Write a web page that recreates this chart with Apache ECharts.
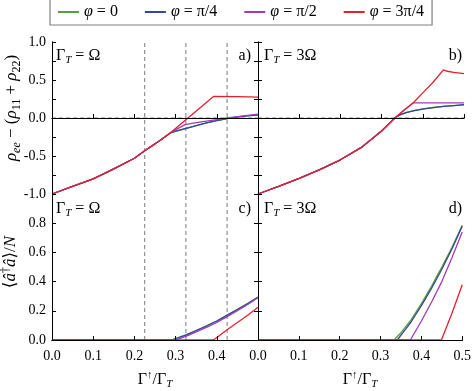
<!DOCTYPE html>
<html><head><meta charset="utf-8">
<script src="https://cdn.jsdelivr.net/npm/echarts@6/dist/echarts.min.js"></script>
<style>html,body{margin:0;padding:0;background:#fff}#c{width:474px;height:391px}</style>
</head><body><div id="c"></div>
<script>
// ---------- data ----------
const seriesNames = ['φ = 0', 'φ = π/4', 'φ = π/2', 'φ = 3π/4'];
const colors = ['#55a03c', '#35479c', '#a03cb8', '#e3202c'];
const xTickLabels = ['0.0', '0.1', '0.2', '0.3', '0.4', '0.5'];
const guideX = [0.225, 0.325, 0.425];

// panel a (Γ_T = Ω): shared branch
const aCommonX = [0, 0.05, 0.1, 0.15, 0.2, 0.225, 0.25, 0.262, 0.286];
const aCommonY = [-1, -0.90, -0.80, -0.67, -0.53, -0.43, -0.34, -0.295, -0.20];
const aTailX = [0.3, 0.325, 0.35, 0.375, 0.4, 0.425, 0.45, 0.475, 0.5];
const aGreenY = [-0.175, -0.14, -0.10, -0.065, -0.035, -0.008, 0.015, 0.03, 0.045];
const aBlueY = [-0.172, -0.138, -0.099, -0.064, -0.034, -0.009, 0.012, 0.027, 0.038];
const aPurpleX = [0.305, 0.323, 0.35, 0.375, 0.4, 0.425, 0.45, 0.475, 0.5];
const aPurpleY = [-0.14, -0.087, -0.06, -0.04, -0.02, 0.0, 0.017, 0.035, 0.052];
const aRedX = [0.392, 0.45, 0.5];
const aRedY = [0.284, 0.28, 0.275];

// panel b (Γ_T = 3Ω)
const bCommonX = [0, 0.05, 0.1, 0.15, 0.2, 0.25, 0.3, 0.332];
const bCommonY = [-1, -0.90, -0.795, -0.68, -0.55, -0.39, -0.17, 0];
const bTailX = [0.345, 0.36, 0.38, 0.4, 0.425, 0.45, 0.475, 0.5];
const bGreenY = [0.045, 0.075, 0.10, 0.12, 0.138, 0.152, 0.163, 0.172];
const bBlueY = [0.04, 0.07, 0.097, 0.118, 0.137, 0.152, 0.164, 0.175];
const bPurpleX = [0.355, 0.377, 0.4, 0.45, 0.5];
const bPurpleY = [0.105, 0.2, 0.2, 0.2, 0.2];
const bRedX = [0.355, 0.377, 0.4, 0.425, 0.45, 0.46, 0.475, 0.5];
const bRedY = [0.105, 0.2, 0.33, 0.47, 0.633, 0.615, 0.6, 0.585];

// panel c (Γ_T = Ω)
const cGreenX = [0, 0.29, 0.325, 0.35, 0.375, 0.4, 0.425, 0.45, 0.475, 0.5];
const cGreenY = [0, 0, 0.035, 0.065, 0.097, 0.13, 0.17, 0.21, 0.25, 0.295];
const cBlueY = [0, 0, 0.034, 0.064, 0.096, 0.13, 0.169, 0.209, 0.25, 0.293];
const cPurpleX = [0, 0.30, 0.325, 0.35, 0.375, 0.4, 0.425, 0.45, 0.475, 0.5];
const cPurpleY = [0, 0, 0.025, 0.055, 0.087, 0.12, 0.16, 0.2, 0.243, 0.29];
const cRedX = [0, 0.392, 0.425, 0.45, 0.475, 0.5];
const cRedY = [0, 0, 0.07, 0.12, 0.17, 0.225];

// panel d (Γ_T = 3Ω)
const dGreenX = [0, 0.333, 0.35, 0.375, 0.4, 0.425, 0.45, 0.475, 0.5];
const dGreenY = [0, 0, 0.05, 0.14, 0.25, 0.37, 0.5, 0.635, 0.785];
const dBlueX = [0, 0.341, 0.36, 0.375, 0.4, 0.425, 0.45, 0.475, 0.5];
const dBlueY = [0, 0, 0.07, 0.125, 0.235, 0.355, 0.485, 0.625, 0.78];
const dPurpleX = [0, 0.373, 0.4, 0.425, 0.45, 0.475, 0.5];
const dPurpleY = [0, 0, 0.13, 0.26, 0.4, 0.565, 0.74];
const dRedX = [0, 0.449, 0.475, 0.5];
const dRedY = [0, 0, 0.185, 0.378];

// ---------- build ----------
const zip = (xs, ys) => xs.map((x, i) => [x, ys[i]]);
const FONT = '"Liberation Serif", "Times New Roman", "DejaVu Serif", serif';
const rich = {
  m: { fontFamily: FONT, fontSize: 16, color: '#000', lineHeight: 20 },
  i: { fontFamily: FONT, fontSize: 16, fontStyle: 'italic', color: '#000', lineHeight: 20 },
  s: { fontFamily: FONT, fontSize: 11, color: '#000', verticalAlign: 'bottom', lineHeight: 12 },
  si: { fontFamily: FONT, fontSize: 11, fontStyle: 'italic', color: '#000', verticalAlign: 'bottom', lineHeight: 12 },
  sup: { fontFamily: FONT, fontSize: 11, color: '#000', verticalAlign: 'top', lineHeight: 12 },
  M: { fontFamily: FONT, fontSize: 17, color: '#000', lineHeight: 22 },
  I: { fontFamily: FONT, fontSize: 17, fontStyle: 'italic', color: '#000', lineHeight: 22 },
  S: { fontFamily: FONT, fontSize: 12, color: '#000', verticalAlign: 'bottom', lineHeight: 13 },
  SI: { fontFamily: FONT, fontSize: 12, fontStyle: 'italic', color: '#000', verticalAlign: 'bottom', lineHeight: 13 },
  SUP: { fontFamily: FONT, fontSize: 12, color: '#000', verticalAlign: 'top', lineHeight: 13 }
};

const grids = [
  { left: 52, top: 42, width: 206, height: 152 },
  { left: 258, top: 42, width: 206, height: 152 },
  { left: 52, top: 194, width: 206, height: 154 },
  { left: 258, top: 194, width: 206, height: 154 }
];
const yMin = [-1, -1, 0, 0], yMax = [1, 1, 1, 1];

const lineAx = { show: true, lineStyle: { color: '#000', width: 1 } };
const tick = { show: true, inside: true, length: 4, lineStyle: { color: '#000' } };
const labelStyle = { fontFamily: FONT, fontSize: 14, color: '#000' };
const xName = '{m|Γ}{sup|↑}{m|/Γ}{si|T}';

const xAxis = [], yAxis = [];
grids.forEach((g, i) => {
  xAxis.push({
    type: 'value', gridIndex: i, min: 0, max: 0.5, interval: 0.1, z: 10,
    axisLine: lineAx, axisTick: tick, splitLine: { show: false },
    axisLabel: {
      show: i >= 2, margin: 9, ...labelStyle,
      formatter: v => (i === 2 && v > 0.45) ? '' : xTickLabels[Math.round(v * 10)]
    },
    name: i >= 2 ? xName : '', nameLocation: 'middle', nameGap: 30,
    nameTextStyle: { rich }
  });
  xAxis.push({
    type: 'value', gridIndex: i, min: 0, max: 0.5, interval: 0.1, position: 'top', z: 10,
    axisLine: lineAx, axisTick: { show: false }, axisLabel: { show: false }, splitLine: { show: false }
  });
  const top = i < 2;
  yAxis.push({
    type: 'value', gridIndex: i, z: 10,
    min: yMin[i], max: yMax[i], interval: top ? 0.5 : 0.2,
    axisLine: lineAx, axisTick: tick,
    minorTick: { show: top, splitNumber: 2, length: 4, lineStyle: { color: '#000' } },
    splitLine: { show: false }, minorSplitLine: { show: false },
    axisLabel: {
      show: i === 0 || i === 2, margin: 6, ...labelStyle,
      formatter: v => (!top && v > 0.9) ? '' : v.toFixed(1)
    }
  });
  yAxis.push({
    type: 'value', gridIndex: i, position: 'right', z: 10,
    min: yMin[i], max: yMax[i], interval: top ? 0.25 : 0.2,
    axisLine: lineAx, axisTick: { ...tick, show: i === 1 || i === 3 },
    axisLabel: { show: false }, splitLine: { show: false }
  });
});

const panelData = [
  [zip(aCommonX.concat(aTailX), aCommonY.concat(aGreenY)),
   zip(aCommonX.concat(aTailX), aCommonY.concat(aBlueY)),
   zip(aCommonX.concat(aPurpleX), aCommonY.concat(aPurpleY)),
   zip(aCommonX.concat(aRedX), aCommonY.concat(aRedY))],
  [zip(bCommonX.concat(bTailX), bCommonY.concat(bGreenY)),
   zip(bCommonX.concat(bTailX), bCommonY.concat(bBlueY)),
   zip(bCommonX.concat(bPurpleX), bCommonY.concat(bPurpleY)),
   zip(bCommonX.concat(bRedX), bCommonY.concat(bRedY))],
  [zip(cGreenX, cGreenY), zip(cGreenX, cBlueY), zip(cPurpleX, cPurpleY), zip(cRedX, cRedY)],
  [zip(dGreenX, dGreenY), zip(dBlueX, dBlueY), zip(dPurpleX, dPurpleY), zip(dRedX, dRedY)]
];

const dashed = { type: [4, 3], color: '#7a7a7a', width: 1 };
const series = [];
// reference guides (dashed)
[0, 2].forEach(p => {
  guideX.forEach(x => series.push({
    type: 'line', xAxisIndex: p * 2, yAxisIndex: p * 2, data: [[x, yMin[p]], [x, yMax[p]]],
    symbol: 'none', silent: true, lineStyle: dashed, z: 1, animation: false
  }));
});
[0, 1].forEach(p => series.push({
  type: 'line', xAxisIndex: p * 2, yAxisIndex: p * 2, data: [[0, 0], [0.5, 0]],
  symbol: 'none', silent: true, lineStyle: dashed, z: 1, animation: false
}));
panelData.forEach((arr, p) => {
  arr.forEach((d, k) => {
    series.push({
      type: 'line', name: seriesNames[k], xAxisIndex: p * 2, yAxisIndex: p * 2,
      data: d, showSymbol: false, symbol: 'none', smooth: false,
      lineStyle: { color: colors[k], width: 1.3 }, itemStyle: { color: colors[k] },
      z: 3, silent: true, animation: false
    });
  });
});

const gText = (x, y, text, align, rotation) => ({
  type: 'text', x, y, z: 20, rotation: rotation || 0,
  style: { text, rich, align, verticalAlign: 'middle', fill: '#000', font: '16px ' + FONT }
});

const option = {
  animation: false,
  grid: grids.map(g => ({ ...g, show: false })),
  xAxis, yAxis, series,
  legend: {
    data: seriesNames, left: 50, top: -1,
    padding: [5, 8, 5, 8], borderColor: '#808080', borderWidth: 1.2,
    itemGap: 27, itemWidth: 21, itemHeight: 2, icon: 'rect',
    textStyle: { rich, fontFamily: FONT, fontSize: 16 },
    formatter: n => '{i|φ}{m| = ' + n.slice(4) + '}'
  },
  graphic: [
    gText(56, 56, '{m|Γ}{si|T}{m| = Ω}', 'left'),
    gText(251, 56, '{m|a)}', 'right'),
    gText(264, 56, '{m|Γ}{si|T}{m| = 3Ω}', 'left'),
    gText(462, 56, '{m|b)}', 'right'),
    gText(56, 209, '{m|Γ}{si|T}{m| = Ω}', 'left'),
    gText(251, 209, '{m|c)}', 'right'),
    gText(264, 209, '{m|Γ}{si|T}{m| = 3Ω}', 'left'),
    gText(462, 209, '{m|d)}', 'right'),
    gText(12, 108, '{I|ρ}{SI|ee}{M| − (}{I|ρ}{S|11}{M| + }{I|ρ}{S|22}{M|)}', 'center', Math.PI / 2),
    gText(11, 262, '{M|⟨}{I|â}{SUP|†}{I|â}{M|⟩/}{I|N}', 'center', Math.PI / 2)
  ]
};
const chart = echarts.init(document.getElementById('c'), null, { renderer: 'canvas' });
chart.setOption(option);
</script></body></html>
